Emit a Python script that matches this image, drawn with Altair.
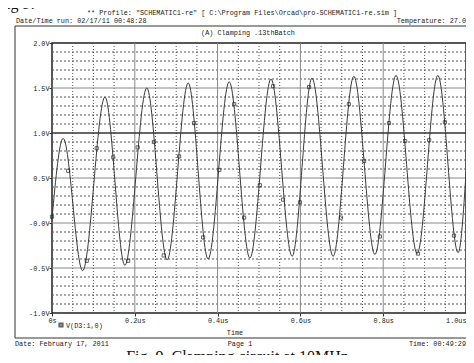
import altair as alt
import pandas as pd

# ---- data ----
peak_t = [0.027, 0.128, 0.229, 0.329, 0.428, 0.529, 0.628, 0.729, 0.831, 0.932]
peak_v = [0.94, 1.40, 1.50, 1.556, 1.57, 1.60, 1.61, 1.63, 1.64, 1.64]
trough_t = [0.074, 0.176, 0.278, 0.377, 0.478, 0.580, 0.679, 0.780, 0.882, 0.981]
trough_v = [-0.53, -0.47, -0.41, -0.40, -0.39, -0.37, -0.37, -0.35, -0.34, -0.33]
start_t, start_v = 0.0, 0.05
end_t, end_v = 1.0, 0.55

marker_t = [0.0, 0.039, 0.084, 0.108, 0.148, 0.184, 0.207, 0.246, 0.27, 0.307, 0.343,
            0.365, 0.404, 0.44, 0.464, 0.502, 0.534, 0.558, 0.599, 0.621, 0.698,
            0.717, 0.754, 0.792, 0.814, 0.853, 0.884, 0.911, 0.949, 0.971]
marker_v = [0.07, 0.58, -0.42, 0.83, 0.73, -0.42, 0.84, 0.90, -0.36, 0.74, 1.11,
            -0.16, 0.59, 1.32, 0.06, 0.42, 1.52, 0.26, 0.23, 1.51, 0.06,
            1.32, 0.69, -0.15, 1.11, 0.91, -0.34, 0.92, 1.12, -0.14]

y_major = [-0.5, 0.0, 0.5, 1.5]
y_dark = [1.0]
y_minor = [-0.9, -0.8, -0.7, -0.6, -0.4, -0.3, -0.2, -0.1, 0.1, 0.2, 0.3, 0.4,
           0.6, 0.7, 0.8, 0.9, 1.1, 1.2, 1.3, 1.4, 1.6, 1.7, 1.8, 1.9]
x_major = [0.2, 0.4, 0.6, 0.8]
x_minor = [0.05, 0.1, 0.15, 0.25, 0.3, 0.35, 0.45, 0.5, 0.55, 0.65, 0.7, 0.75,
           0.85, 0.9, 0.95]
y_ticks = [-1.0, -0.5, 0.0, 0.5, 1.0, 1.5, 2.0]
y_tick_labels = ["-1.0V", "-0.5V", "-0.0V", "0.5V", "1.0V", "1.5V", "2.0V"]
x_ticks = [0.0, 0.2, 0.4, 0.6, 0.8, 1.0]
x_tick_labels = ["0s", "0.2us", "0.4us", "0.6us", "0.8us", "1.0us"]

# ---- tables ----
wave_t = [start_t]
wave_v = [start_v]
for pt, pv, tt, tv in zip(peak_t, peak_v, trough_t, trough_v):
    wave_t += [pt, tt]
    wave_v += [pv, tv]
wave_t.append(end_t)
wave_v.append(end_v)
wave = pd.DataFrame({"t": wave_t, "v": wave_v})
markers = pd.DataFrame({"t": marker_t, "v": marker_v})

MONO = "Liberation Mono"
FS = 6.8
W, H = 414, 270
xs = alt.Scale(domain=[0, 1], nice=False, zero=False)
ys = alt.Scale(domain=[-1, 2], nice=False, zero=False)

def key(v):
    return format(v, "g")

ylab = "{" + ",".join(f'"{key(v)}":"{l}"' for v, l in zip(y_ticks, y_tick_labels)) + "}"
xlab = "{" + ",".join(f'"{key(v)}":"{l}"' for v, l in zip(x_ticks, x_tick_labels)) + "}"

XAX = alt.Axis(values=x_ticks, labelExpr=f"{xlab}[datum.value + '']", title=None,
               grid=False, domain=False, tickSize=3, tickColor="#333",
               labelFont=MONO, labelFontSize=FS, labelColor="#222", labelPadding=1,
               labelFlush=False, labelBound=False,
               labelAlign={"condition": {"test": "datum.value >= 1", "value": "right"},
                           "value": "center"})
YAX = alt.Axis(values=y_ticks, labelExpr=f"{ylab}[datum.value + '']", title=None,
               grid=False, domain=False, tickSize=3, tickColor="#333",
               labelFont=MONO, labelFontSize=FS, labelColor="#222", labelPadding=0)

def hrules(vals, color, dash, width=1):
    return alt.Chart(pd.DataFrame({"y": vals})).mark_rule(
        color=color, strokeDash=dash, strokeWidth=width
    ).encode(y=alt.Y("y:Q", scale=ys, axis=YAX))

def vrules(vals, color, dash, width=1):
    return alt.Chart(pd.DataFrame({"x": vals})).mark_rule(
        color=color, strokeDash=dash, strokeWidth=width
    ).encode(x=alt.X("x:Q", scale=xs, axis=XAX))

one = pd.DataFrame({"a": [0]})

def txt(s, x, y, size=FS, align="left", font=MONO, color="#222"):
    return alt.Chart(one).mark_text(
        align=align, baseline="alphabetic", font=font, fontSize=size, color=color
    ).encode(x=alt.value(x), y=alt.value(y), text=alt.value(s))

layers = [
    hrules(y_minor, "#555", [2, 2]),
    vrules(x_minor, "#555", [1, 2]),
    hrules(y_major, "#888", []),
    vrules(x_major, "#888", []),
    hrules(y_dark, "#333", [], 1.5),
    alt.Chart(wave).mark_line(
        color="#3a3a3a", strokeWidth=1, interpolate="monotone"
    ).encode(x=alt.X("t:Q", scale=xs, axis=XAX), y=alt.Y("v:Q", scale=ys, axis=YAX)),
    alt.Chart(markers).mark_point(
        shape="square", filled=False, size=10, color="#222", strokeWidth=1
    ).encode(x=alt.X("t:Q", scale=xs, axis=XAX), y=alt.Y("v:Q", scale=ys, axis=YAX)),
    # outer frame (right side falls at the page edge)
    alt.Chart(one).mark_rect(fill=None, stroke="#333", strokeWidth=1).encode(
        x=alt.value(-37), x2=alt.value(421), y=alt.value(-17), y2=alt.value(295)),
    # header / footer texts
    txt("ing 9:", -54, -34, size=16, font="Liberation Serif", color="#111"),
    txt('** Profile: "SCHEMATIC1-re"  [ C:\\Program Files\\Orcad\\pro-SCHEMATIC1-re.sim ]', 35, -28),
    txt("Date/Time run: 02/17/11 00:48:28", -36, -20),
    txt("Temperature: 27.0", 414, -20, align="right"),
    txt("(A) Clamping .13thBatch", 196, -8, align="center"),
    txt("Time", 183, 292, align="center"),
    txt("Date: February 17, 2011", -37, 303),
    txt("Page 1", 188, 303, align="center"),
    txt("Time: 00:49:29", 414, 303, align="right"),
    alt.Chart(one).mark_point(shape="square", filled=False, size=10, color="#222").encode(
        x=alt.value(9), y=alt.value(282)),
    txt("V(D3:1,0)", 14, 285),
    txt("Fig. 9. Clamping circuit at 10MHz", 185, 319, size=16,
        font="Liberation Serif", align="center", color="#111"),
]

chart = alt.layer(*layers).properties(
    width=W, height=H,
    padding={"left": 44, "top": 35, "right": 0, "bottom": 42},
    autosize=alt.AutoSizeParams(type="none"),
    background="white",
).configure_view(stroke="#222", strokeWidth=1.5)

chart.save("out.html", embed_options={"renderer": "svg", "actions": False})
